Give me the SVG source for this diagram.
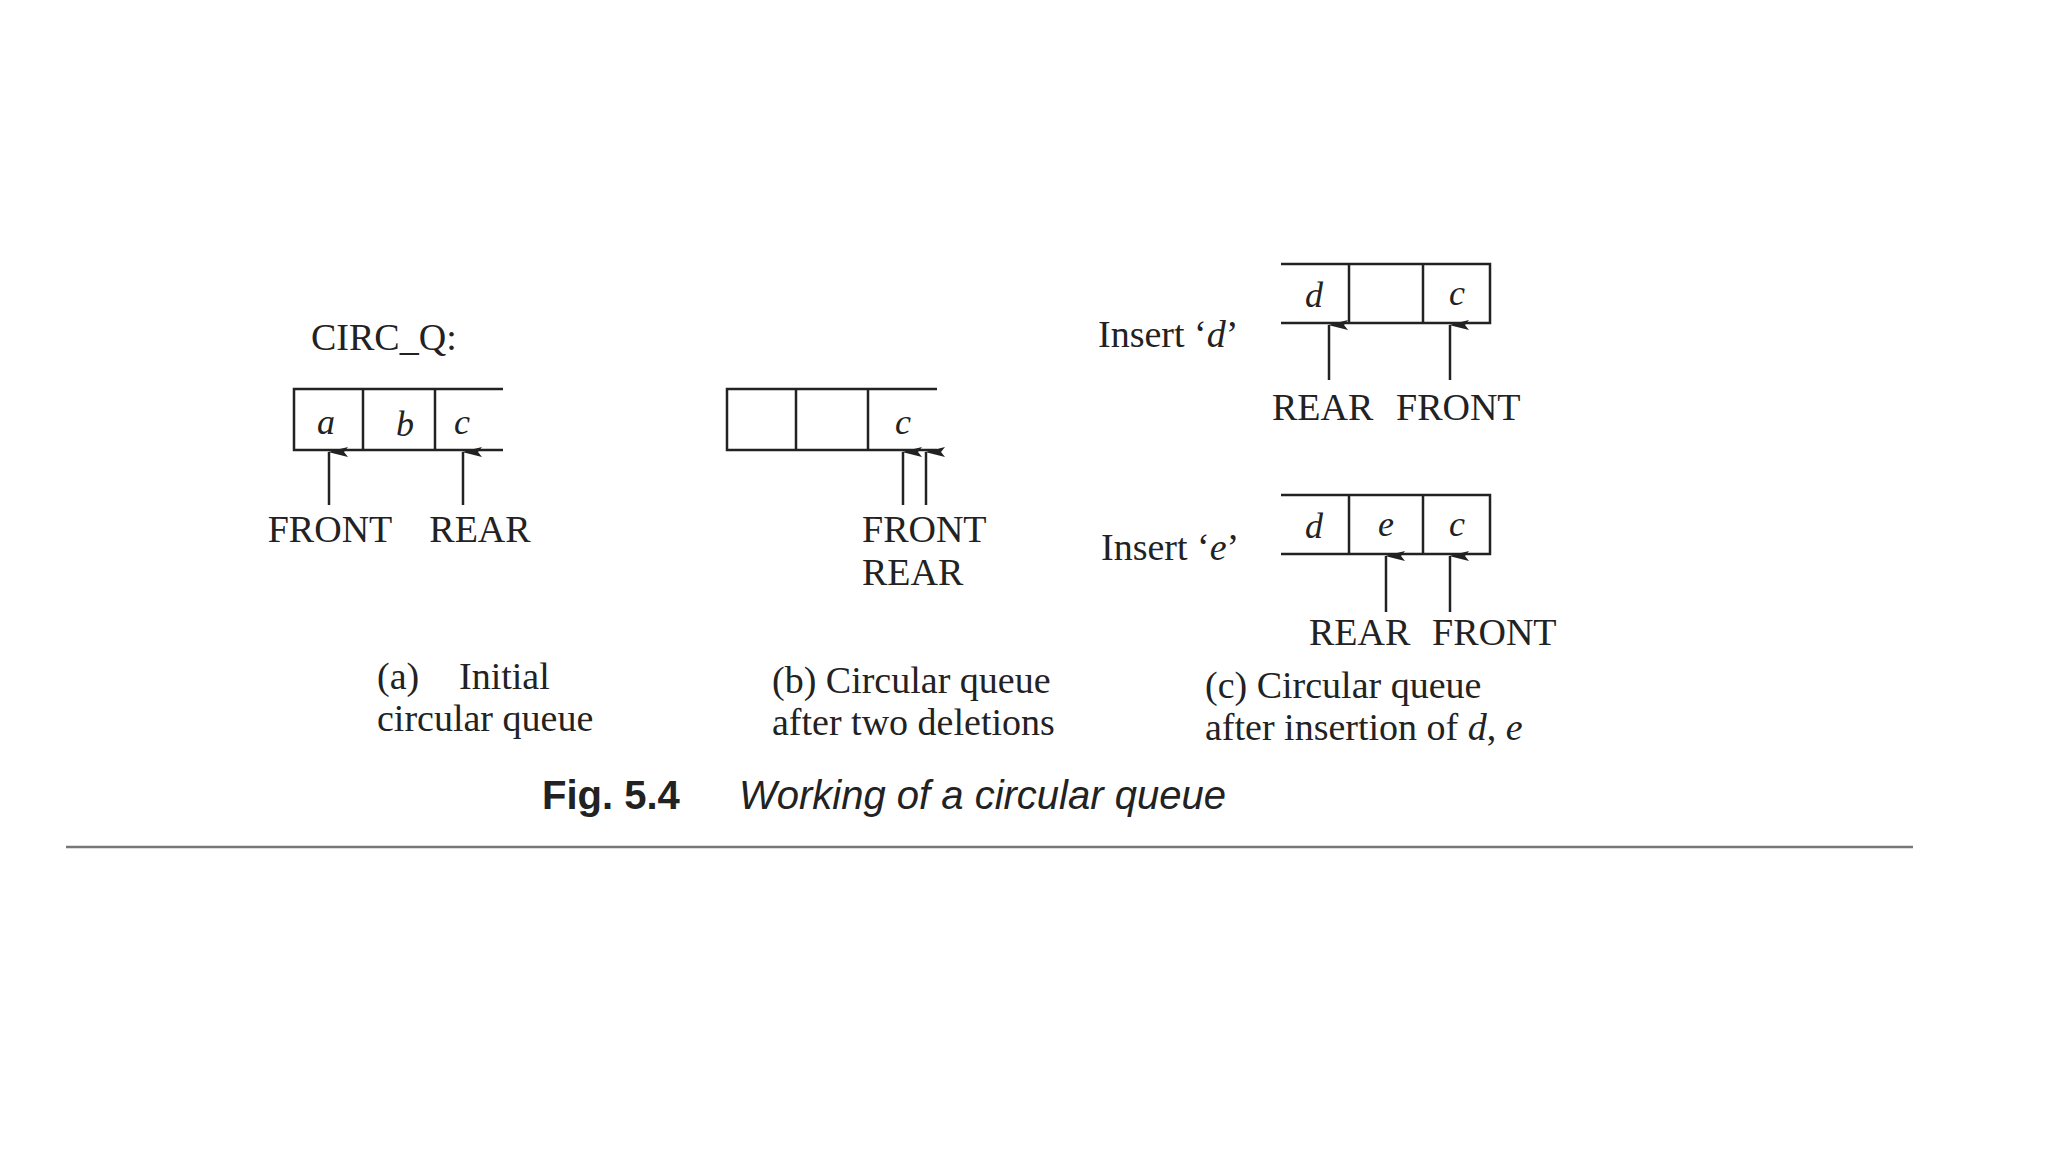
<svg xmlns="http://www.w3.org/2000/svg" width="2048" height="1152" viewBox="0 0 2048 1152">
<style>
.q{fill:none;stroke:#222;stroke-width:2.5}
.t{font-family:"Liberation Serif",serif;font-size:38px;fill:#222}
.i{font-family:"Liberation Serif",serif;font-size:36px;font-style:italic;fill:#222;text-anchor:middle}
.ar{stroke:#222;stroke-width:2.5;marker-end:url(#ah)}
</style>
<defs><marker id="ah" viewBox="0 0 10 20" refX="5" refY="1" markerWidth="10" markerHeight="20" markerUnits="userSpaceOnUse" orient="auto-start-reverse"><path d="M0,20 L5,0 L10,20 L5,16 Z" fill="#222" transform="rotate(0)"/></marker></defs>
<rect width="2048" height="1152" fill="#fff"/>
<g id="queueA">
<text class="t" x="311" y="350" font-size="32">CIRC_Q:</text>
<path class="q" d="M503,389 H294 V450 H503 M363,389 V450 M435,389 V450"/>
<text class="i" x="326" y="434">a</text><text class="i" x="405" y="436">b</text><text class="i" x="462" y="434">c</text>
<text class="t" x="330" y="542" text-anchor="middle">FRONT</text>
<text class="t" x="480" y="542" text-anchor="middle">REAR</text>
</g>
<g id="queueB">
<path class="q" d="M937,389 H727 V450 H937 M796,389 V450 M868,389 V450"/>
<text class="i" x="903" y="434">c</text>
<text class="t" x="862" y="542">FRONT</text>
<text class="t" x="862" y="585">REAR</text>
</g>
<g id="queueC1">
<text class="t" x="1098" y="347">Insert ‘<tspan font-style="italic">d</tspan>’</text>
<path class="q" d="M1281,264 H1490 V323 H1281 M1349,264 V323 M1423,264 V323"/>
<text class="i" x="1314" y="307">d</text><text class="i" x="1457" y="305">c</text>
<text class="t" x="1272" y="420">REAR</text><text class="t" x="1396" y="420">FRONT</text>
</g>
<g id="queueC2">
<text class="t" x="1101" y="560">Insert ‘<tspan font-style="italic">e</tspan>’</text>
<path class="q" d="M1281,495 H1490 V554 H1281 M1349,495 V554 M1423,495 V554"/>
<text class="i" x="1314" y="538">d</text><text class="i" x="1386" y="536">e</text><text class="i" x="1457" y="536">c</text>
<text class="t" x="1309" y="645">REAR</text><text class="t" x="1432" y="645">FRONT</text>
</g>
<g id="connectors">
<line class="ar" x1="329" y1="505" x2="329" y2="452"/>
<line class="ar" x1="463" y1="505" x2="463" y2="452"/>
<line class="ar" x1="903" y1="505" x2="903" y2="452"/>
<line class="ar" x1="926" y1="505" x2="926" y2="452"/>
<line class="ar" x1="1329" y1="380" x2="1329" y2="325"/>
<line class="ar" x1="1450" y1="380" x2="1450" y2="325"/>
<line class="ar" x1="1386" y1="612" x2="1386" y2="556"/>
<line class="ar" x1="1450" y1="612" x2="1450" y2="556"/>
</g>
<g id="captions">
<text class="t" x="377" y="689">(a)<tspan x="459">Initial</tspan></text>
<text class="t" x="377" y="731">circular queue</text>
<text class="t" x="772" y="693">(b) Circular queue</text>
<text class="t" x="772" y="735">after two deletions</text>
<text class="t" x="1205" y="698">(c) Circular queue</text>
<text class="t" x="1205" y="740">after insertion of <tspan font-style="italic">d</tspan>, <tspan font-style="italic">e</tspan></text>
<text x="542" y="809" font-family="Liberation Sans,sans-serif" font-size="40" font-weight="bold" fill="#222">Fig. 5.4</text>
<text x="739" y="809" font-family="Liberation Sans,sans-serif" font-size="40" font-style="italic" fill="#222">Working of a circular queue</text>
</g>
<line x1="66" y1="847" x2="1913" y2="847" stroke="#777" stroke-width="2.5"/>
</svg>
